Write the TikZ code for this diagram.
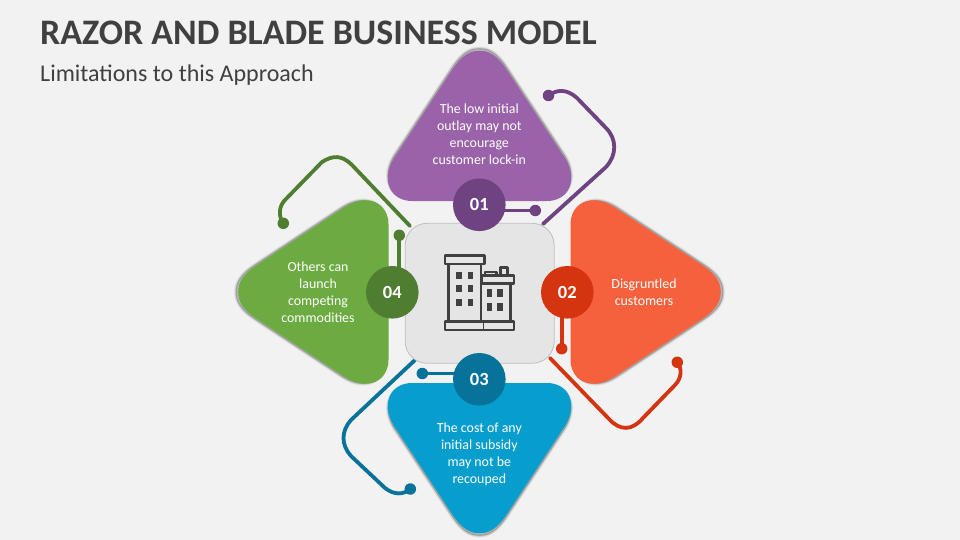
\documentclass[tikz,border=0pt]{standalone}
\usepackage{fontspec}
\setmainfont{Carlito}
\definecolor{pagebg}{HTML}{F2F2F2}
\definecolor{boxfill}{HTML}{E5E5E5}
\definecolor{boxline}{HTML}{BFBFBF}
\definecolor{ink}{HTML}{404040}
\definecolor{purpleA}{HTML}{9A62A8}
\definecolor{purpleB}{HTML}{6F4382}
\definecolor{orangeA}{HTML}{F4613C}
\definecolor{orangeB}{HTML}{D4340F}
\definecolor{blueA}{HTML}{079ECD}
\definecolor{blueB}{HTML}{08739A}
\definecolor{greenA}{HTML}{6CAB41}
\definecolor{greenB}{HTML}{507E31}
\tikzset{
  x=1pt,y=-1pt,
  badge/.style={circle,minimum size=52.6pt,inner sep=0pt,text=white,font=\fontsize{18.5}{18.5}\selectfont\bfseries},
  dotnode/.style={circle,minimum size=11.5pt,inner sep=0pt},
  wire/.style={line width=3.8pt,line cap=round,line join=round},
  body/.style={align=center,text=white,font=\fontsize{13.9}{17}\selectfont,inner sep=0pt},
  icon/.style={draw=ink,line width=2.6pt,line join=round},
  win/.style={fill=ink},
  softedge/.style={black,draw=black,opacity=#1,line join=round},
}
\newcommand{\tripath}{(412,201) -- (547,201) .. controls (568,201) and (579,181) .. (565,158)
  -- (507,70) .. controls (497,55) and (489,50.7) .. (479.5,50.7)
  .. controls (470,50.7) and (462,55) .. (452,70) -- (394,158)
  .. controls (380,181) and (391,201) .. (412,201) -- cycle}
\newcommand{\razortri}[2]{%
  \begin{scope}[rotate around={#1:(479.5,292)}]
    \begin{scope}[yshift=2.3pt]
      \fill[softedge=.04,line width=4pt] \tripath;
      \fill[softedge=.07,line width=2.6pt] \tripath;
      \fill[softedge=.10,line width=1.2pt] \tripath;
    \end{scope}
    \fill[#2] \tripath;
  \end{scope}}
\begin{document}
\begin{tikzpicture}
\useasboundingbox (0,0) rectangle (960,540);
\fill[pagebg] (0,0) rectangle (960,540);
\node[anchor=west,inner sep=0pt,text=ink,font=\fontsize{35.9}{36}\selectfont\bfseries] (title) at (40,33) {RAZOR AND BLADE BUSINESS MODEL};
\node[anchor=west,inner sep=0pt,text=ink,font=\fontsize{24}{24}\selectfont] (subtitle) at (40,75) {Limitations to this Approach};
\razortri{0}{purpleA}
\razortri{270}{orangeA}
\razortri{180}{blueA}
\razortri{90}{greenA}
% anchors of the long wires
\coordinate (pEnd) at (543,224);
\coordinate (rEnd) at (550,358);
\coordinate (bEnd) at (415,360);
\coordinate (gEnd) at (410,226);
\node[dotnode,fill=purpleB] (pDot) at (548.5,95.5) {};
\node[dotnode,fill=orangeB] (rDot) at (677.3,362.3) {};
\node[dotnode,fill=blueB] (bDot) at (410.3,489) {};
\node[dotnode,fill=greenB] (gDot) at (283.3,223.3) {};
\draw[wire,purpleB] (pDot.center) .. controls (556,90) and (566,88) .. (577,98) -- (606,128)
  .. controls (617,139) and (617,155) .. (606,167) -- (pEnd);
\draw[wire,orangeB] (rDot.center) .. controls (682,368) and (682,378) .. (675,385) -- (643,418)
  .. controls (632,431) and (620,431) .. (609,419) -- (rEnd);
\draw[wire,blueB] (bDot.center) .. controls (403,495) and (394,495) .. (385,488) -- (351,456)
  .. controls (341,445) and (341,431) .. (351,420) -- (bEnd);
\draw[wire,greenB] (gDot.center) .. controls (278,216) and (279,206) .. (285,200) -- (322,162)
  .. controls (333,155) and (342,155) .. (352,165) -- (gEnd);
% centre panel
\node[draw=boxline,fill=boxfill,line width=.8pt,rounded corners=22pt,minimum width=149pt,minimum height=140pt,inner sep=0pt] (panel) at (479.7,293.3) {};
% short wires, their dots and the badges
\node[dotnode,fill=purpleB] (d1) at (535.3,210.5) {};
\node[dotnode,fill=orangeB] (d2) at (561.7,348.7) {};
\node[dotnode,fill=blueB] (d3) at (422.3,373.5) {};
\node[dotnode,fill=greenB] (d4) at (399.3,235.3) {};
\coordinate (c1) at (479.3,204.8);
\coordinate (c2) at (567.3,292.3);
\coordinate (c3) at (479.3,379.3);
\coordinate (c4) at (392.3,292.3);
\draw[wire,purpleB,line cap=butt] (d1.center) -- (d1.center -| c1);
\draw[wire,orangeB,line cap=butt] (d2.center) -- (d2.center |- c2);
\draw[wire,blueB,line cap=butt] (d3.center) -- (d3.center -| c3);
\draw[wire,greenB,line cap=butt] (d4.center) -- (d4.center |- c4);
\node[badge,fill=purpleB] (b1) at (c1) {01};
\node[badge,fill=orangeB] (b2) at (c2) {02};
\node[badge,fill=blueB] (b3) at (c3) {03};
\node[badge,fill=greenB] (b4) at (c4) {04};
% building icon
\draw[icon] (448.3,264) rectangle (481,321.7);
\draw[icon] (481,283.3) rectangle (510.7,321.7);
\draw[icon] (445,255.7) rectangle (484.3,264);
\draw[icon] (481.7,275.7) rectangle (514,283.3);
\draw[icon] (445,321.7) rectangle (514,330);
\draw[icon,line width=1.6pt] (483.3,321.7) -- (483.3,330);
\draw[icon] (485,275.7) -- (485,272) -- (496.7,272) -- (496.7,275.7);
\draw[icon] (500.7,275.7) -- (500.7,267.5) -- (507.3,267.5) -- (507.3,275.7);
\foreach \yy in {271.7,285,299}{
  \fill[win] (456,\yy) rectangle +(5.7,7);
  \fill[win] (468.3,\yy) rectangle +(5,7);
}
\foreach \yy in {289,303.3}{
  \fill[win] (487.3,\yy) rectangle +(5,7.5);
  \fill[win] (497.3,\yy) rectangle +(6,7.5);
}
% texts
\node[body] (t1) at (479.3,134.5) {The low initial\\outlay may not\\encourage\\customer lock-in};
\node[body] (t2) at (644,292.5) {Disgruntled\\customers};
\node[body] (t3) at (479.3,454) {The cost of any\\initial subsidy\\may not be\\recouped};
\node[body] (t4) at (318,292.5) {Others can\\launch\\competing\\commodities};
\end{tikzpicture}
\end{document}
